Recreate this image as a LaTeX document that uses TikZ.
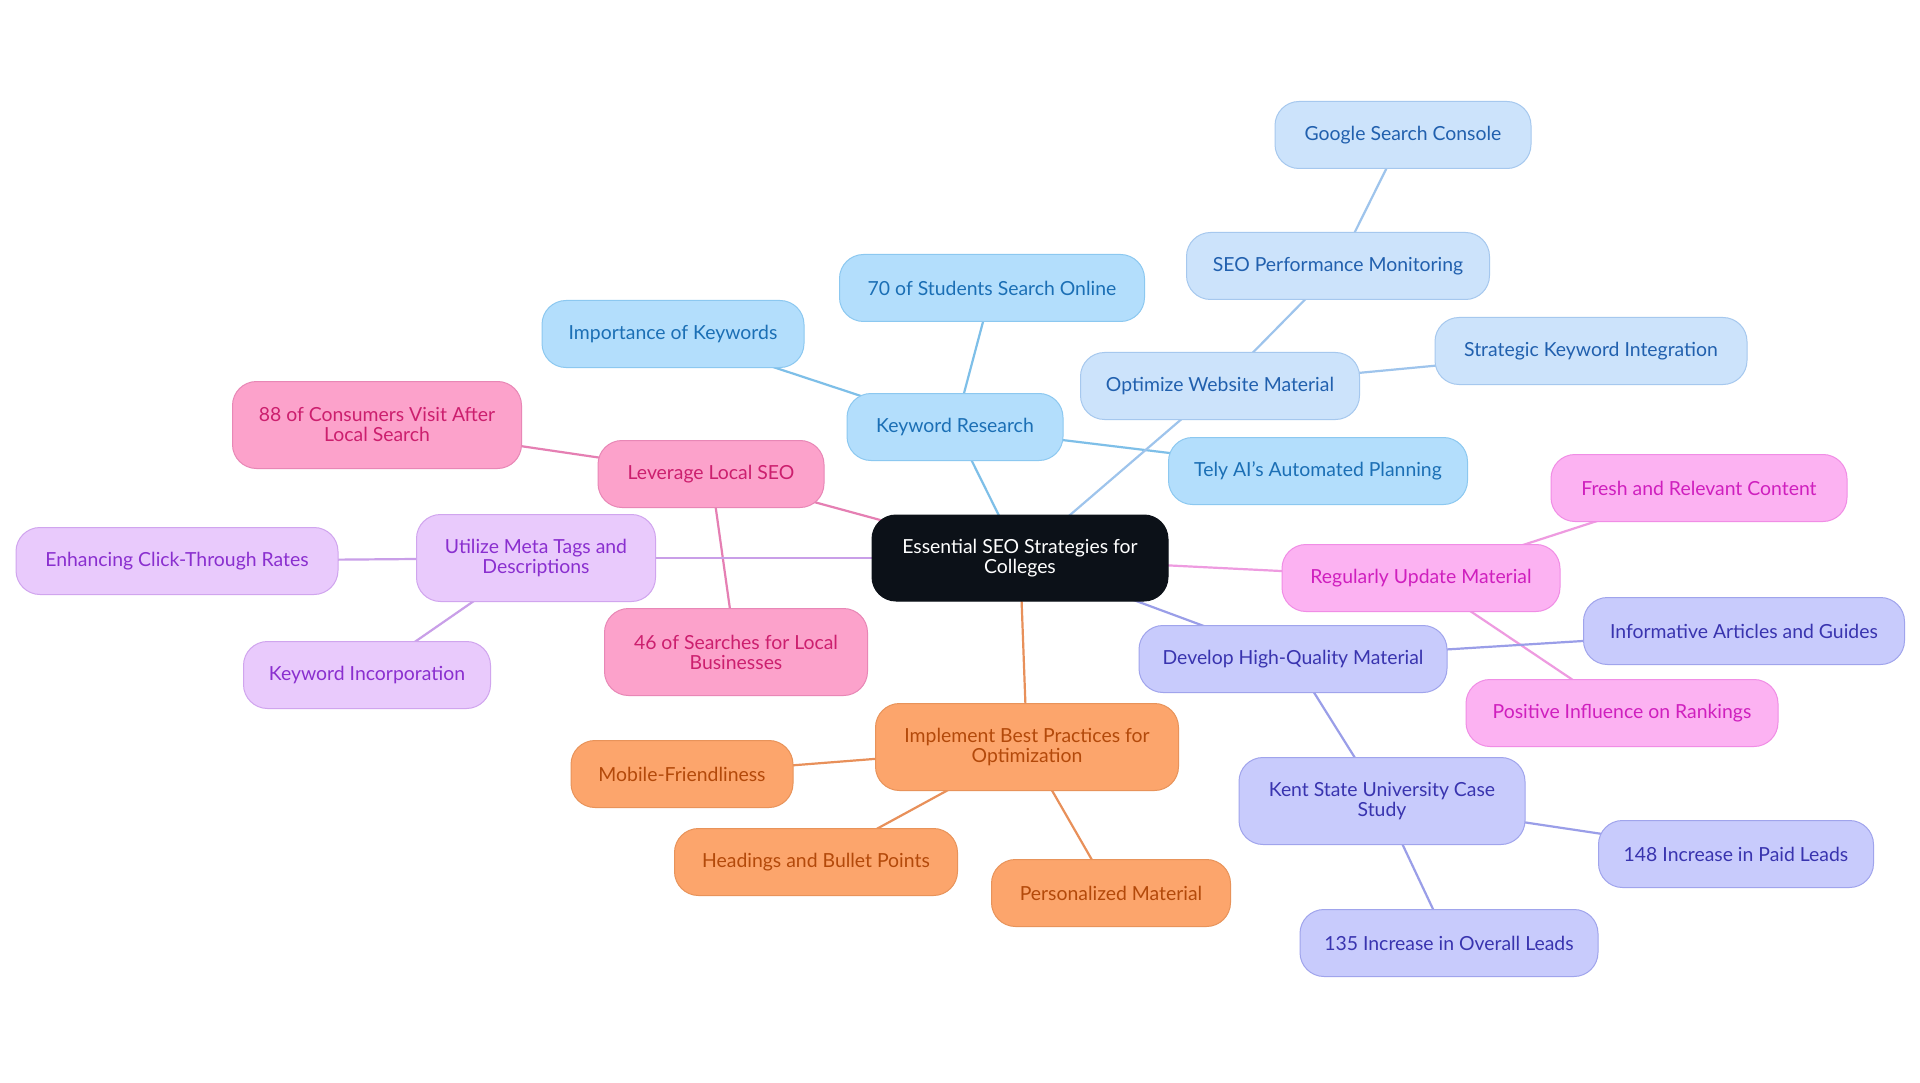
\documentclass[tikz,border=0pt]{standalone}
\usepackage{fontspec}
\setmainfont{Lato}
\usetikzlibrary{backgrounds}
\definecolor{cdark}{HTML}{0C1118}
\definecolor{kfill}{HTML}{B3DEFC}\definecolor{kdraw}{HTML}{8CC8F0}\definecolor{ktext}{HTML}{1B6FB5}\definecolor{kedge}{HTML}{7EBFE8}
\definecolor{ofill}{HTML}{CCE3FB}\definecolor{odraw}{HTML}{A6C8EE}\definecolor{otext}{HTML}{2160AE}\definecolor{oedge}{HTML}{9EC4EC}
\definecolor{pfill}{HTML}{FCA2CB}\definecolor{pdraw}{HTML}{E887B6}\definecolor{ptext}{HTML}{CC1F6E}\definecolor{pedge}{HTML}{E57FB3}
\definecolor{ufill}{HTML}{E9CAFC}\definecolor{udraw}{HTML}{D0A5EE}\definecolor{utext}{HTML}{8A2FCF}\definecolor{uedge}{HTML}{C99FE8}
\definecolor{mfill}{HTML}{FCB2F2}\definecolor{mdraw}{HTML}{F08DE5}\definecolor{mtext}{HTML}{CF1FBE}\definecolor{medge}{HTML}{EE9BE0}
\definecolor{dfill}{HTML}{C8CBFC}\definecolor{ddraw}{HTML}{A0A4EC}\definecolor{dtext}{HTML}{3934AF}\definecolor{dedge}{HTML}{9A9EE8}
\definecolor{rfill}{HTML}{FCA56C}\definecolor{rdraw}{HTML}{E8935A}\definecolor{rtext}{HTML}{B3490A}\definecolor{redge}{HTML}{E8905A}
\tikzset{
  box/.style={rounded corners=24pt, line width=1pt, inner sep=0pt, align=center, minimum height=67pt,
     font=\fontsize{19.4}{20}\selectfont},
  rootbox/.style={box, fill=cdark, draw=cdark, text=white, minimum height=86pt},
  kbox/.style={box, fill=kfill, draw=kdraw, text=ktext},
  obox/.style={box, fill=ofill, draw=odraw, text=otext},
  pbox/.style={box, fill=pfill, draw=pdraw, text=ptext},
  ubox/.style={box, fill=ufill, draw=udraw, text=utext},
  mbox/.style={box, fill=mfill, draw=mdraw, text=mtext},
  dbox/.style={box, fill=dfill, draw=ddraw, text=dtext},
  rbox/.style={box, fill=rfill, draw=rdraw, text=rtext},
  tall/.style={minimum height=87pt},
  edge/.style={line width=2.2pt}
}
\begin{document}
\begin{tikzpicture}[x=1pt,y=-1pt]
\useasboundingbox (0,0) rectangle (1920,1083);
\node[rootbox, minimum width=296pt] (root) at (1020,558) {Essential SEO Strategies for\\Colleges};
% keyword research branch
\node[kbox, minimum width=216pt] (kr) at (955,427) {Keyword Research};
\node[kbox, minimum width=262pt] (ik) at (673,334) {Importance of Keywords};
\node[kbox, minimum width=305pt] (st) at (992,288) {70 of Students Search Online};
\node[kbox, minimum width=299pt] (ta) at (1318,471) {Tely AI's Automated Planning};
% optimize website branch
\node[obox, minimum width=279pt] (ow) at (1220,386) {Optimize Website Material};
\node[obox, minimum width=303pt] (pm) at (1338,266) {SEO Performance Monitoring};
\node[obox, minimum width=256pt] (gs) at (1403,135) {Google Search Console};
\node[obox, minimum width=312pt] (sk) at (1591,351) {Strategic Keyword Integration};
% local seo branch
\node[pbox, minimum width=226pt] (ls) at (711,474) {Leverage Local SEO};
\node[pbox, tall, minimum width=289pt] (cv) at (377,425) {88 of Consumers Visit After\\Local Search};
\node[pbox, tall, minimum width=263pt] (sl) at (736,652) {46 of Searches for Local\\Businesses};
% meta tags branch
\node[ubox, tall, minimum width=239pt] (mt) at (536,558) {Utilize Meta Tags and\\Descriptions};
\node[ubox, minimum width=322pt] (ct) at (177,561) {Enhancing Click-Through Rates};
\node[ubox, minimum width=247pt] (ki) at (367,675) {Keyword Incorporation};
% regularly update branch
\node[mbox, minimum width=278pt] (ru) at (1421,578) {Regularly Update Material};
\node[mbox, minimum width=296pt] (fr) at (1699,488) {Fresh and Relevant Content};
\node[mbox, minimum width=312pt] (pi) at (1622,713) {Positive Influence on Rankings};
% develop branch
\node[dbox, minimum width=308pt] (dq) at (1293,659) {Develop High-Quality Material};
\node[dbox, minimum width=321pt] (ia) at (1744,631) {Informative Articles and Guides};
\node[dbox, tall, minimum width=286pt] (ks) at (1382,801) {Kent State University Case\\Study};
\node[dbox, minimum width=275pt] (pl) at (1736,854) {148 Increase in Paid Leads};
\node[dbox, minimum width=298pt] (ol) at (1449,943) {135 Increase in Overall Leads};
% best practices branch
\node[rbox, tall, minimum width=303pt] (bp) at (1027,747) {Implement Best Practices for\\Optimization};
\node[rbox, minimum width=222pt] (mf) at (682,774) {Mobile-Friendliness};
\node[rbox, minimum width=283pt] (hb) at (816,862) {Headings and Bullet Points};
\node[rbox, minimum width=239pt] (pz) at (1111,893) {Personalized Material};
\begin{pgfonlayer}{background}
\fill[white] (0,0) rectangle (1920,1083);
\draw[edge, kedge] (root.center) -- (kr.center);
\draw[edge, kedge] (kr.center) -- (ik.center);
\draw[edge, kedge] (kr.center) -- (st.center);
\draw[edge, kedge] (kr.center) -- (ta.center);
\draw[edge, oedge] (root.center) -- (ow.center);
\draw[edge, oedge] (ow.center) -- (pm.center);
\draw[edge, oedge] (pm.center) -- (gs.center);
\draw[edge, oedge] (ow.center) -- (sk.center);
\draw[edge, pedge] (root.center) -- (ls.center);
\draw[edge, pedge] (ls.center) -- (cv.center);
\draw[edge, pedge] (ls.center) -- (sl.center);
\draw[edge, uedge] (root.center) -- (mt.center);
\draw[edge, uedge] (mt.center) -- (ct.center);
\draw[edge, uedge] (mt.center) -- (ki.center);
\draw[edge, medge] (root.center) -- (ru.center);
\draw[edge, medge] (ru.center) -- (fr.center);
\draw[edge, medge] (ru.center) -- (pi.center);
\draw[edge, dedge] (root.center) -- (dq.center);
\draw[edge, dedge] (dq.center) -- (ia.center);
\draw[edge, dedge] (dq.center) -- (ks.center);
\draw[edge, dedge] (ks.center) -- (pl.center);
\draw[edge, dedge] (ks.center) -- (ol.center);
\draw[edge, redge] (root.center) -- (bp.center);
\draw[edge, redge] (bp.center) -- (mf.center);
\draw[edge, redge] (bp.center) -- (hb.center);
\draw[edge, redge] (bp.center) -- (pz.center);
\end{pgfonlayer}
\end{tikzpicture}
\end{document}
